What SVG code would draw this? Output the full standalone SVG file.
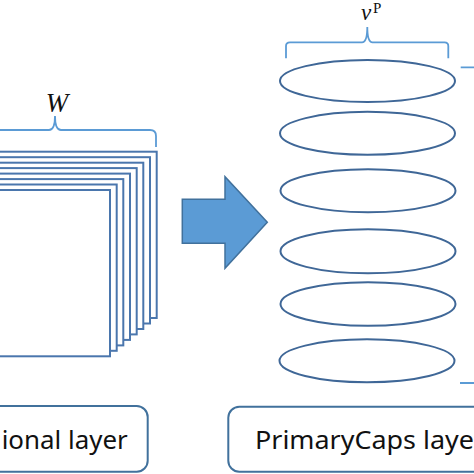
<svg xmlns="http://www.w3.org/2000/svg" width="474" height="474" viewBox="0 0 474 474">
<defs>
<style>
.sheet{fill:#fff;stroke:#4a76ad;stroke-width:2}
.cap{fill:none;stroke:#3f6797;stroke-width:2}
.brace{fill:none;stroke:#5b9bd5;stroke-width:1.8}
.box{fill:#fff;stroke:#41719c;stroke-width:2}
.lbl{font-family:"Noto Sans","Open Sans",sans-serif;font-size:25px;fill:#111}
.math{font-family:"Liberation Serif","DejaVu Serif",serif;font-style:italic;fill:#111}
</style>
</defs>
<rect width="474" height="474" fill="#fff"/>
<g id="conv-stack">
<rect class="sheet" x="-60" y="151.7" width="216.7" height="166.3"/>
<rect class="sheet" x="-60" y="157.2" width="210" height="166.3"/>
<rect class="sheet" x="-60" y="162.7" width="203.3" height="166.3"/>
<rect class="sheet" x="-60" y="168.1" width="196.7" height="166.3"/>
<rect class="sheet" x="-60" y="173.6" width="190" height="166.3"/>
<rect class="sheet" x="-60" y="179.1" width="183.3" height="166.3"/>
<rect class="sheet" x="-60" y="184.5" width="176.7" height="166.3"/>
<rect class="sheet" x="-60" y="190" width="170" height="166.3"/>
</g>
<g id="brace-w">
<path class="brace" d="M-5,130 H49 Q55,130 55,116 Q55,130 61,130 H150 Q156,130 156,136 V147"/>
<text class="math" x="57" y="112" font-size="27" text-anchor="middle">W</text>
</g>
<g id="arrow">
<path d="M182.3,199.3 H225 V176.7 L267.3,222.3 L225,268.3 V243.3 H182.3 Z" fill="#5b9bd5" stroke="#41719c" stroke-width="1.5"/>
</g>
<g id="capsules">
<ellipse class="cap" cx="367.5" cy="81" rx="87.5" ry="21"/>
<ellipse class="cap" cx="367.5" cy="133.3" rx="87.5" ry="21.5"/>
<ellipse class="cap" cx="368" cy="190.7" rx="87.5" ry="21.5"/>
<ellipse class="cap" cx="368" cy="251.3" rx="87.5" ry="22"/>
<ellipse class="cap" cx="368" cy="304" rx="87.5" ry="21.8"/>
<ellipse class="cap" cx="367" cy="360.8" rx="87.5" ry="21.5"/>
</g>
<g id="brace-vp">
<path class="brace" d="M286,58.3 V46 Q286,42.3 290,42.3 H362 Q367.3,42.3 367.3,27 Q367.3,42.3 372.5,42.3 H444.5 Q448.3,42.3 448.3,46 V58.3"/>
<text class="math" x="361" y="20" font-size="23">v</text>
<text x="373" y="13" font-size="15" font-family="Liberation Serif,serif" fill="#111">P</text>
</g>
<g id="brace-right">
<path class="brace" d="M460.7,67.3 H476 M460,383 H476"/>
</g>
<g id="label-conv">
<rect class="box" x="-20" y="406" width="167.7" height="65.7" rx="11"/>
<text class="lbl" x="1.7" y="448.5" textLength="126" lengthAdjust="spacingAndGlyphs">ional layer</text>
</g>
<g id="label-primary">
<rect class="box" x="228.3" y="406.7" width="270" height="65" rx="11"/>
<text class="lbl" x="255" y="449.3" textLength="230" lengthAdjust="spacingAndGlyphs">PrimaryCaps layer</text>
</g>
</svg>
